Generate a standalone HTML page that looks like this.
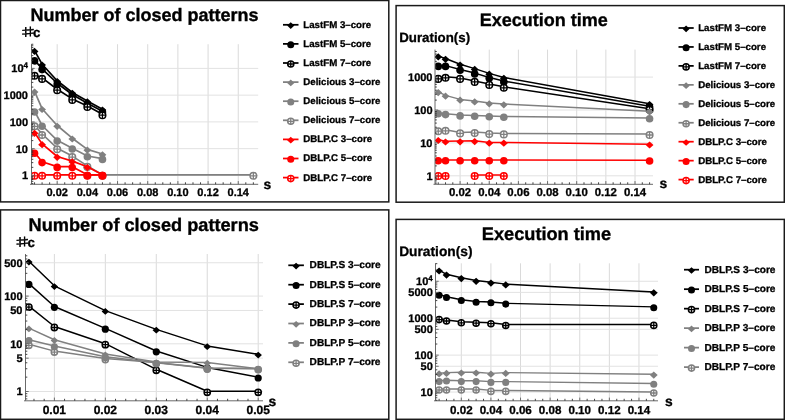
<!DOCTYPE html>
<html><head><meta charset="utf-8"><style>
html,body{margin:0;padding:0;background:#fff;width:785px;height:420px;overflow:hidden}
svg{display:block}
text{text-rendering:geometricPrecision}
</style></head><body>
<svg width="785" height="420" viewBox="0 0 785 420">
<rect width="785" height="420" fill="#fff"/>
<rect x="0.5" y="0.5" width="388.3" height="201.4" fill="none" stroke="#1a1a1a" stroke-width="1.5"/><rect x="396.1" y="5.6" width="388.2" height="196.6" fill="none" stroke="#1a1a1a" stroke-width="1.5"/><rect x="0.5" y="209.9" width="388.3" height="209.4" fill="none" stroke="#1a1a1a" stroke-width="1.5"/><rect x="396.1" y="219.4" width="388.2" height="199.9" fill="none" stroke="#1a1a1a" stroke-width="1.5"/>
<path d="M57.18 44.2V184.3M87.36 44.2V184.3M117.54 44.2V184.3M147.72 44.2V184.3M177.9 44.2V184.3M208.08 44.2V184.3M238.26 44.2V184.3" stroke="#dadada" stroke-width="1"/>
<path d="M31.5 175.4H258.2M31.5 148.65H258.2M31.5 121.9H258.2M31.5 95.15H258.2M31.5 68.4H258.2" stroke="#e2e2e2" stroke-width="1"/>
<text x="57.18" y="196" font-family="Liberation Sans, Arial, sans-serif" font-weight="bold" font-size="11" stroke="#000" stroke-width="0.3" text-anchor="middle">0.02</text>
<text x="87.36" y="196" font-family="Liberation Sans, Arial, sans-serif" font-weight="bold" font-size="11" stroke="#000" stroke-width="0.3" text-anchor="middle">0.04</text>
<text x="117.54" y="196" font-family="Liberation Sans, Arial, sans-serif" font-weight="bold" font-size="11" stroke="#000" stroke-width="0.3" text-anchor="middle">0.06</text>
<text x="147.72" y="196" font-family="Liberation Sans, Arial, sans-serif" font-weight="bold" font-size="11" stroke="#000" stroke-width="0.3" text-anchor="middle">0.08</text>
<text x="177.9" y="196" font-family="Liberation Sans, Arial, sans-serif" font-weight="bold" font-size="11" stroke="#000" stroke-width="0.3" text-anchor="middle">0.10</text>
<text x="208.08" y="196" font-family="Liberation Sans, Arial, sans-serif" font-weight="bold" font-size="11" stroke="#000" stroke-width="0.3" text-anchor="middle">0.12</text>
<text x="238.26" y="196" font-family="Liberation Sans, Arial, sans-serif" font-weight="bold" font-size="11" stroke="#000" stroke-width="0.3" text-anchor="middle">0.14</text>
<text x="28" y="179.3" font-family="Liberation Sans, Arial, sans-serif" font-weight="bold" font-size="11" stroke="#000" stroke-width="0.3" text-anchor="end">1</text>
<text x="28" y="152.55" font-family="Liberation Sans, Arial, sans-serif" font-weight="bold" font-size="11" stroke="#000" stroke-width="0.3" text-anchor="end">10</text>
<text x="28" y="125.8" font-family="Liberation Sans, Arial, sans-serif" font-weight="bold" font-size="11" stroke="#000" stroke-width="0.3" text-anchor="end">100</text>
<text x="28" y="99.05" font-family="Liberation Sans, Arial, sans-serif" font-weight="bold" font-size="11" stroke="#000" stroke-width="0.3" text-anchor="end">1000</text>
<text x="28" y="72.3" font-family="Liberation Sans, Arial, sans-serif" font-weight="bold" font-size="11" stroke="#000" stroke-width="0.3" text-anchor="end">10<tspan font-size="8" dy="-4.5">4</tspan></text>
<text x="263.5" y="188.5" font-family="Liberation Sans, Arial, sans-serif" font-weight="bold" font-size="13.8" stroke="#000" stroke-width="0.3">s</text>
<text x="30.5" y="20.7" font-family="Liberation Sans, Arial, sans-serif" font-weight="bold" font-size="18.0" stroke="#000" stroke-width="0.35">Number of closed patterns</text>
<text transform="translate(18.2 35.6) scale(1.8 1.05)" font-family="NanumGothic, sans-serif" font-weight="bold" font-size="11.5" stroke="#000" stroke-width="0.45">♯</text><text x="32.9" y="36.6" font-family="Liberation Sans, Arial, sans-serif" font-weight="bold" font-size="13.3" stroke="#000" stroke-width="0.3">c</text>
<clipPath id="c17"><rect x="31.5" y="36.2" width="234.7" height="148.1"/></clipPath><g clip-path="url(#c17)">
<path d="M34.55 50.6 L42.09 64.2 L57.18 80.7 L72.27 92.5 L87.36 101.1 L102.45 109.2" stroke="#000" stroke-width="1.7" fill="none" stroke-linejoin="round"/>
<polygon points="34.55,47.8 38.45,51.4 34.55,55 30.65,51.4" fill="#000"/>
<polygon points="42.09,61.4 45.99,65 42.09,68.6 38.19,65" fill="#000"/>
<polygon points="57.18,77.9 61.08,81.5 57.18,85.1 53.28,81.5" fill="#000"/>
<polygon points="72.27,89.7 76.17,93.3 72.27,96.9 68.37,93.3" fill="#000"/>
<polygon points="87.36,98.3 91.26,101.9 87.36,105.5 83.46,101.9" fill="#000"/>
<polygon points="102.45,106.4 106.35,110 102.45,113.6 98.55,110" fill="#000"/>
<path d="M34.55 60.1 L42.09 68.8 L57.18 83.2 L72.27 94.5 L87.36 103.2 L102.45 111.3" stroke="#000" stroke-width="1.7" fill="none" stroke-linejoin="round"/>
<circle cx="34.55" cy="60.9" r="3.8" fill="#000"/>
<circle cx="42.09" cy="69.6" r="3.8" fill="#000"/>
<circle cx="57.18" cy="84" r="3.8" fill="#000"/>
<circle cx="72.27" cy="95.3" r="3.8" fill="#000"/>
<circle cx="87.36" cy="104" r="3.8" fill="#000"/>
<circle cx="102.45" cy="112.1" r="3.8" fill="#000"/>
<path d="M34.55 74.8 L42.09 77.9 L57.18 89.2 L72.27 98.9 L87.36 106 L102.45 114.2" stroke="#000" stroke-width="1.7" fill="none" stroke-linejoin="round"/>
<circle cx="34.55" cy="75.8" r="3.3" fill="#fff" stroke="#000" stroke-width="1.5"/><path d="M31.25 75.8H37.84M34.55 72.5V79.1" stroke="#000" stroke-width="1.3" fill="none"/>
<circle cx="42.09" cy="78.9" r="3.3" fill="#fff" stroke="#000" stroke-width="1.5"/><path d="M38.79 78.9H45.39M42.09 75.6V82.2" stroke="#000" stroke-width="1.3" fill="none"/>
<circle cx="57.18" cy="90.2" r="3.3" fill="#fff" stroke="#000" stroke-width="1.5"/><path d="M53.88 90.2H60.48M57.18 86.9V93.5" stroke="#000" stroke-width="1.3" fill="none"/>
<circle cx="72.27" cy="99.9" r="3.3" fill="#fff" stroke="#000" stroke-width="1.5"/><path d="M68.97 99.9H75.57M72.27 96.6V103.2" stroke="#000" stroke-width="1.3" fill="none"/>
<circle cx="87.36" cy="107" r="3.3" fill="#fff" stroke="#000" stroke-width="1.5"/><path d="M84.06 107H90.66M87.36 103.7V110.3" stroke="#000" stroke-width="1.3" fill="none"/>
<circle cx="102.45" cy="115.2" r="3.3" fill="#fff" stroke="#000" stroke-width="1.5"/><path d="M99.15 115.2H105.75M102.45 111.9V118.5" stroke="#000" stroke-width="1.3" fill="none"/>
<path d="M34.55 91.3 L42.09 108.7 L57.18 125.5 L72.27 138.2 L87.36 149.4 L102.45 154" stroke="#808080" stroke-width="1.7" fill="none" stroke-linejoin="round"/>
<polygon points="34.55,88.5 38.45,92.1 34.55,95.7 30.65,92.1" fill="#808080"/>
<polygon points="42.09,105.9 45.99,109.5 42.09,113.1 38.19,109.5" fill="#808080"/>
<polygon points="57.18,122.7 61.08,126.3 57.18,129.9 53.28,126.3" fill="#808080"/>
<polygon points="72.27,135.4 76.17,139 72.27,142.6 68.37,139" fill="#808080"/>
<polygon points="87.36,146.6 91.26,150.2 87.36,153.8 83.46,150.2" fill="#808080"/>
<polygon points="102.45,151.2 106.35,154.8 102.45,158.4 98.55,154.8" fill="#808080"/>
<path d="M34.55 111.2 L42.09 125.5 L57.18 140.3 L72.27 148.2 L87.36 156 L102.45 158.6" stroke="#808080" stroke-width="1.7" fill="none" stroke-linejoin="round"/>
<circle cx="34.55" cy="112" r="3.8" fill="#808080"/>
<circle cx="42.09" cy="126.3" r="3.8" fill="#808080"/>
<circle cx="57.18" cy="141.1" r="3.8" fill="#808080"/>
<circle cx="72.27" cy="149" r="3.8" fill="#808080"/>
<circle cx="87.36" cy="156.8" r="3.8" fill="#808080"/>
<circle cx="102.45" cy="159.4" r="3.8" fill="#808080"/>
<path d="M34.55 125.3 L42.09 134 L57.18 148.2 L72.27 156.1 L87.36 165.9 L102.45 174.8 L253.35 174.8" stroke="#808080" stroke-width="1.7" fill="none" stroke-linejoin="round"/>
<circle cx="34.55" cy="126.3" r="3.3" fill="#fff" stroke="#808080" stroke-width="1.5"/><path d="M31.25 126.3H37.84M34.55 123V129.6" stroke="#808080" stroke-width="1.3" fill="none"/>
<circle cx="42.09" cy="135" r="3.3" fill="#fff" stroke="#808080" stroke-width="1.5"/><path d="M38.79 135H45.39M42.09 131.7V138.3" stroke="#808080" stroke-width="1.3" fill="none"/>
<circle cx="57.18" cy="149.2" r="3.3" fill="#fff" stroke="#808080" stroke-width="1.5"/><path d="M53.88 149.2H60.48M57.18 145.9V152.5" stroke="#808080" stroke-width="1.3" fill="none"/>
<circle cx="72.27" cy="157.1" r="3.3" fill="#fff" stroke="#808080" stroke-width="1.5"/><path d="M68.97 157.1H75.57M72.27 153.8V160.4" stroke="#808080" stroke-width="1.3" fill="none"/>
<circle cx="87.36" cy="166.9" r="3.3" fill="#fff" stroke="#808080" stroke-width="1.5"/><path d="M84.06 166.9H90.66M87.36 163.6V170.2" stroke="#808080" stroke-width="1.3" fill="none"/>
<circle cx="102.45" cy="175.8" r="3.3" fill="#fff" stroke="#808080" stroke-width="1.5"/><path d="M99.15 175.8H105.75M102.45 172.5V179.1" stroke="#808080" stroke-width="1.3" fill="none"/>
<circle cx="253.35" cy="175.8" r="3.3" fill="#fff" stroke="#808080" stroke-width="1.5"/><path d="M250.05 175.8H256.65M253.35 172.5V179.1" stroke="#808080" stroke-width="1.3" fill="none"/>
<path d="M34.55 174.8 L42.09 174.8 L57.18 174.8 L72.27 174.8 L87.36 174.8 L102.45 174.8" stroke="#ff0000" stroke-width="1.7" fill="none" stroke-linejoin="round"/>
<circle cx="34.55" cy="175.8" r="3.3" fill="#fff" stroke="#ff0000" stroke-width="1.5"/><path d="M31.25 175.8H37.84M34.55 172.5V179.1" stroke="#ff0000" stroke-width="1.3" fill="none"/>
<circle cx="42.09" cy="175.8" r="3.3" fill="#fff" stroke="#ff0000" stroke-width="1.5"/><path d="M38.79 175.8H45.39M42.09 172.5V179.1" stroke="#ff0000" stroke-width="1.3" fill="none"/>
<circle cx="57.18" cy="175.8" r="3.3" fill="#fff" stroke="#ff0000" stroke-width="1.5"/><path d="M53.88 175.8H60.48M57.18 172.5V179.1" stroke="#ff0000" stroke-width="1.3" fill="none"/>
<circle cx="72.27" cy="175.8" r="3.3" fill="#fff" stroke="#ff0000" stroke-width="1.5"/><path d="M68.97 175.8H75.57M72.27 172.5V179.1" stroke="#ff0000" stroke-width="1.3" fill="none"/>
<circle cx="87.36" cy="175.8" r="3.3" fill="#fff" stroke="#ff0000" stroke-width="1.5"/><path d="M84.06 175.8H90.66M87.36 172.5V179.1" stroke="#ff0000" stroke-width="1.3" fill="none"/>
<circle cx="102.45" cy="175.8" r="3.3" fill="#fff" stroke="#ff0000" stroke-width="1.5"/><path d="M99.15 175.8H105.75M102.45 172.5V179.1" stroke="#ff0000" stroke-width="1.3" fill="none"/>
<path d="M34.55 132.5 L42.09 143.9 L57.18 156.5 L72.27 161.1 L87.36 166.8 L102.45 174.8" stroke="#ff0000" stroke-width="1.7" fill="none" stroke-linejoin="round"/>
<polygon points="34.55,129.7 38.45,133.3 34.55,136.9 30.65,133.3" fill="#ff0000"/>
<polygon points="42.09,141.1 45.99,144.7 42.09,148.3 38.19,144.7" fill="#ff0000"/>
<polygon points="57.18,153.7 61.08,157.3 57.18,160.9 53.28,157.3" fill="#ff0000"/>
<polygon points="72.27,158.3 76.17,161.9 72.27,165.5 68.37,161.9" fill="#ff0000"/>
<polygon points="87.36,164 91.26,167.6 87.36,171.2 83.46,167.6" fill="#ff0000"/>
<polygon points="102.45,172 106.35,175.6 102.45,179.2 98.55,175.6" fill="#ff0000"/>
<path d="M34.55 152.5 L42.09 161.8 L57.18 166.6 L72.27 166.7 L87.36 174.8 L102.45 174.8" stroke="#ff0000" stroke-width="1.7" fill="none" stroke-linejoin="round"/>
<circle cx="34.55" cy="153.3" r="3.8" fill="#ff0000"/>
<circle cx="42.09" cy="162.6" r="3.8" fill="#ff0000"/>
<circle cx="57.18" cy="167.4" r="3.8" fill="#ff0000"/>
<circle cx="72.27" cy="167.5" r="3.8" fill="#ff0000"/>
<circle cx="87.36" cy="175.6" r="3.8" fill="#ff0000"/>
<circle cx="102.45" cy="175.6" r="3.8" fill="#ff0000"/>
</g>
<path d="M31.5 44.2V184.3M30 184.3H258.2" stroke="#6a6a6a" stroke-width="1" fill="none"/>
<path d="M57.18 184.3v-3.2M87.36 184.3v-3.2M117.54 184.3v-3.2M147.72 184.3v-3.2M177.9 184.3v-3.2M208.08 184.3v-3.2M238.26 184.3v-3.2M31.5 175.4h3.2M31.5 148.65h3.2M31.5 121.9h3.2M31.5 95.15h3.2M31.5 68.4h3.2" stroke="#606060" stroke-width="0.9" fill="none"/>
<path d="M34.55 184.3v-2M42.09 184.3v-2M49.63 184.3v-2M64.72 184.3v-2M72.27 184.3v-2M79.81 184.3v-2M94.91 184.3v-2M102.45 184.3v-2M110 184.3v-2M125.09 184.3v-2M132.63 184.3v-2M140.18 184.3v-2M155.27 184.3v-2M162.81 184.3v-2M170.35 184.3v-2M185.44 184.3v-2M192.99 184.3v-2M200.53 184.3v-2M215.62 184.3v-2M223.17 184.3v-2M230.72 184.3v-2M245.8 184.3v-2M253.35 184.3v-2M31.5 183.45h1.8M31.5 181.33h1.8M31.5 179.54h1.8M31.5 177.99h1.8M31.5 176.62h1.8M31.5 167.35h1.8M31.5 162.64h1.8M31.5 159.29h1.8M31.5 156.7h1.8M31.5 154.58h1.8M31.5 152.79h1.8M31.5 151.24h1.8M31.5 149.87h1.8M31.5 140.6h1.8M31.5 135.89h1.8M31.5 132.54h1.8M31.5 129.95h1.8M31.5 127.83h1.8M31.5 126.04h1.8M31.5 124.49h1.8M31.5 123.12h1.8M31.5 113.85h1.8M31.5 109.14h1.8M31.5 105.79h1.8M31.5 103.2h1.8M31.5 101.08h1.8M31.5 99.29h1.8M31.5 97.74h1.8M31.5 96.37h1.8M31.5 87.1h1.8M31.5 82.39h1.8M31.5 79.04h1.8M31.5 76.45h1.8M31.5 74.33h1.8M31.5 72.54h1.8M31.5 70.99h1.8M31.5 69.62h1.8M31.5 60.35h1.8M31.5 55.64h1.8M31.5 52.29h1.8M31.5 49.7h1.8M31.5 47.58h1.8M31.5 45.79h1.8M31.5 44.24h1.8" stroke="#303030" stroke-width="0.9" fill="none"/>
<path d="M283 24.8H298.5" stroke="#000" stroke-width="1.75"/>
<polygon points="290.75,22.25 294.38,25.6 290.75,28.95 287.12,25.6" fill="#000"/>
<text x="303.3" y="27.75" font-family="Liberation Sans, Arial, sans-serif" font-weight="bold" font-size="9.7" stroke="#000" stroke-width="0.3">LastFM 3–core</text>
<path d="M283 43.9H298.5" stroke="#000" stroke-width="1.75"/>
<circle cx="290.75" cy="44.7" r="3.53" fill="#000"/>
<text x="303.3" y="46.85" font-family="Liberation Sans, Arial, sans-serif" font-weight="bold" font-size="9.7" stroke="#000" stroke-width="0.3">LastFM 5–core</text>
<path d="M283 63H298.5" stroke="#000" stroke-width="1.75"/>
<circle cx="290.75" cy="64" r="3.07" fill="#fff" stroke="#000" stroke-width="1.5"/><path d="M287.68 64H293.82M290.75 60.93V67.07" stroke="#000" stroke-width="1.3" fill="none"/>
<text x="303.3" y="65.95" font-family="Liberation Sans, Arial, sans-serif" font-weight="bold" font-size="9.7" stroke="#000" stroke-width="0.3">LastFM 7–core</text>
<path d="M283 82.1H298.5" stroke="#808080" stroke-width="1.75"/>
<polygon points="290.75,79.55 294.38,82.9 290.75,86.25 287.12,82.9" fill="#808080"/>
<text x="303.3" y="85.05" font-family="Liberation Sans, Arial, sans-serif" font-weight="bold" font-size="9.7" stroke="#000" stroke-width="0.3">Delicious 3–core</text>
<path d="M283 101.2H298.5" stroke="#808080" stroke-width="1.75"/>
<circle cx="290.75" cy="102" r="3.53" fill="#808080"/>
<text x="303.3" y="104.15" font-family="Liberation Sans, Arial, sans-serif" font-weight="bold" font-size="9.7" stroke="#000" stroke-width="0.3">Delicious 5–core</text>
<path d="M283 120.3H298.5" stroke="#808080" stroke-width="1.75"/>
<circle cx="290.75" cy="121.3" r="3.07" fill="#fff" stroke="#808080" stroke-width="1.5"/><path d="M287.68 121.3H293.82M290.75 118.23V124.37" stroke="#808080" stroke-width="1.3" fill="none"/>
<text x="303.3" y="123.25" font-family="Liberation Sans, Arial, sans-serif" font-weight="bold" font-size="9.7" stroke="#000" stroke-width="0.3">Delicious 7–core</text>
<path d="M283 139.4H298.5" stroke="#ff0000" stroke-width="1.75"/>
<polygon points="290.75,136.85 294.38,140.2 290.75,143.55 287.12,140.2" fill="#ff0000"/>
<text x="303.3" y="142.35" font-family="Liberation Sans, Arial, sans-serif" font-weight="bold" font-size="9.7" stroke="#000" stroke-width="0.3">DBLP.C 3–core</text>
<path d="M283 158.5H298.5" stroke="#ff0000" stroke-width="1.75"/>
<circle cx="290.75" cy="159.3" r="3.53" fill="#ff0000"/>
<text x="303.3" y="161.45" font-family="Liberation Sans, Arial, sans-serif" font-weight="bold" font-size="9.7" stroke="#000" stroke-width="0.3">DBLP.C 5–core</text>
<path d="M283 177.6H298.5" stroke="#ff0000" stroke-width="1.75"/>
<circle cx="290.75" cy="178.6" r="3.07" fill="#fff" stroke="#ff0000" stroke-width="1.5"/><path d="M287.68 178.6H293.82M290.75 175.53V181.67" stroke="#ff0000" stroke-width="1.3" fill="none"/>
<text x="303.3" y="180.55" font-family="Liberation Sans, Arial, sans-serif" font-weight="bold" font-size="9.7" stroke="#000" stroke-width="0.3">DBLP.C 7–core</text>
<path d="M460.1 49.6V184.3M489.25 49.6V184.3M518.4 49.6V184.3M547.55 49.6V184.3M576.7 49.6V184.3M605.85 49.6V184.3M635 49.6V184.3" stroke="#dadada" stroke-width="1"/>
<path d="M435 175.8H653M435 142.9H653M435 110H653M435 77.1H653" stroke="#e2e2e2" stroke-width="1"/>
<text x="460.1" y="196.3" font-family="Liberation Sans, Arial, sans-serif" font-weight="bold" font-size="11.4" stroke="#000" stroke-width="0.3" text-anchor="middle">0.02</text>
<text x="489.25" y="196.3" font-family="Liberation Sans, Arial, sans-serif" font-weight="bold" font-size="11.4" stroke="#000" stroke-width="0.3" text-anchor="middle">0.04</text>
<text x="518.4" y="196.3" font-family="Liberation Sans, Arial, sans-serif" font-weight="bold" font-size="11.4" stroke="#000" stroke-width="0.3" text-anchor="middle">0.06</text>
<text x="547.55" y="196.3" font-family="Liberation Sans, Arial, sans-serif" font-weight="bold" font-size="11.4" stroke="#000" stroke-width="0.3" text-anchor="middle">0.08</text>
<text x="576.7" y="196.3" font-family="Liberation Sans, Arial, sans-serif" font-weight="bold" font-size="11.4" stroke="#000" stroke-width="0.3" text-anchor="middle">0.10</text>
<text x="605.85" y="196.3" font-family="Liberation Sans, Arial, sans-serif" font-weight="bold" font-size="11.4" stroke="#000" stroke-width="0.3" text-anchor="middle">0.12</text>
<text x="635" y="196.3" font-family="Liberation Sans, Arial, sans-serif" font-weight="bold" font-size="11.4" stroke="#000" stroke-width="0.3" text-anchor="middle">0.14</text>
<text x="432.5" y="179.7" font-family="Liberation Sans, Arial, sans-serif" font-weight="bold" font-size="11" stroke="#000" stroke-width="0.3" text-anchor="end">1</text>
<text x="432.5" y="146.8" font-family="Liberation Sans, Arial, sans-serif" font-weight="bold" font-size="11" stroke="#000" stroke-width="0.3" text-anchor="end">10</text>
<text x="432.5" y="113.9" font-family="Liberation Sans, Arial, sans-serif" font-weight="bold" font-size="11" stroke="#000" stroke-width="0.3" text-anchor="end">100</text>
<text x="432.5" y="81" font-family="Liberation Sans, Arial, sans-serif" font-weight="bold" font-size="11" stroke="#000" stroke-width="0.3" text-anchor="end">1000</text>
<text x="659.5" y="188.3" font-family="Liberation Sans, Arial, sans-serif" font-weight="bold" font-size="13.8" stroke="#000" stroke-width="0.3">s</text>
<text x="479.7" y="25.7" font-family="Liberation Sans, Arial, sans-serif" font-weight="bold" font-size="18.0" stroke="#000" stroke-width="0.35">Execution time</text>
<text x="399.2" y="41.9" font-family="Liberation Sans, Arial, sans-serif" font-weight="bold" font-size="13.3" stroke="#000" stroke-width="0.3">Duration(s)</text>
<clipPath id="c129"><rect x="435" y="41.6" width="226" height="142.7"/></clipPath><g clip-path="url(#c129)">
<path d="M438.24 56.1 L445.52 58.5 L460.1 64.2 L474.68 68.6 L489.25 73.4 L503.82 77.5 L649.58 103.7" stroke="#000" stroke-width="1.5" fill="none" stroke-linejoin="round"/>
<polygon points="438.24,53.3 442.14,56.9 438.24,60.5 434.34,56.9" fill="#000"/>
<polygon points="445.52,55.7 449.42,59.3 445.52,62.9 441.62,59.3" fill="#000"/>
<polygon points="460.1,61.4 464,65 460.1,68.6 456.2,65" fill="#000"/>
<polygon points="474.68,65.8 478.57,69.4 474.68,73 470.78,69.4" fill="#000"/>
<polygon points="489.25,70.6 493.15,74.2 489.25,77.8 485.35,74.2" fill="#000"/>
<polygon points="503.82,74.7 507.72,78.3 503.82,81.9 499.93,78.3" fill="#000"/>
<polygon points="649.58,100.9 653.48,104.5 649.58,108.1 645.68,104.5" fill="#000"/>
<path d="M438.24 65.6 L445.52 65.6 L460.1 69.5 L474.68 73.1 L489.25 77.5 L503.82 81.1 L649.58 106.2" stroke="#000" stroke-width="1.5" fill="none" stroke-linejoin="round"/>
<circle cx="438.24" cy="66.4" r="3.8" fill="#000"/>
<circle cx="445.52" cy="66.4" r="3.8" fill="#000"/>
<circle cx="460.1" cy="70.3" r="3.8" fill="#000"/>
<circle cx="474.68" cy="73.9" r="3.8" fill="#000"/>
<circle cx="489.25" cy="78.3" r="3.8" fill="#000"/>
<circle cx="503.82" cy="81.9" r="3.8" fill="#000"/>
<circle cx="649.58" cy="107" r="3.8" fill="#000"/>
<path d="M438.24 77.9 L445.52 76.8 L460.1 77.9 L474.68 80.9 L489.25 83.9 L503.82 86.8 L649.58 108.8" stroke="#000" stroke-width="1.5" fill="none" stroke-linejoin="round"/>
<circle cx="438.24" cy="78.9" r="3.3" fill="#fff" stroke="#000" stroke-width="1.5"/><path d="M434.94 78.9H441.54M438.24 75.6V82.2" stroke="#000" stroke-width="1.3" fill="none"/>
<circle cx="445.52" cy="77.8" r="3.3" fill="#fff" stroke="#000" stroke-width="1.5"/><path d="M442.22 77.8H448.82M445.52 74.5V81.1" stroke="#000" stroke-width="1.3" fill="none"/>
<circle cx="460.1" cy="78.9" r="3.3" fill="#fff" stroke="#000" stroke-width="1.5"/><path d="M456.8 78.9H463.4M460.1 75.6V82.2" stroke="#000" stroke-width="1.3" fill="none"/>
<circle cx="474.68" cy="81.9" r="3.3" fill="#fff" stroke="#000" stroke-width="1.5"/><path d="M471.38 81.9H477.98M474.68 78.6V85.2" stroke="#000" stroke-width="1.3" fill="none"/>
<circle cx="489.25" cy="84.9" r="3.3" fill="#fff" stroke="#000" stroke-width="1.5"/><path d="M485.95 84.9H492.55M489.25 81.6V88.2" stroke="#000" stroke-width="1.3" fill="none"/>
<circle cx="503.82" cy="87.8" r="3.3" fill="#fff" stroke="#000" stroke-width="1.5"/><path d="M500.52 87.8H507.12M503.82 84.5V91.1" stroke="#000" stroke-width="1.3" fill="none"/>
<circle cx="649.58" cy="109.8" r="3.3" fill="#fff" stroke="#000" stroke-width="1.5"/><path d="M646.28 109.8H652.88M649.58 106.5V113.1" stroke="#000" stroke-width="1.3" fill="none"/>
<path d="M438.24 91.8 L445.52 95.4 L460.1 99.4 L474.68 101.1 L489.25 103 L503.82 104 L649.58 111.2" stroke="#808080" stroke-width="1.5" fill="none" stroke-linejoin="round"/>
<polygon points="438.24,89 442.14,92.6 438.24,96.2 434.34,92.6" fill="#808080"/>
<polygon points="445.52,92.6 449.42,96.2 445.52,99.8 441.62,96.2" fill="#808080"/>
<polygon points="460.1,96.6 464,100.2 460.1,103.8 456.2,100.2" fill="#808080"/>
<polygon points="474.68,98.3 478.57,101.9 474.68,105.5 470.78,101.9" fill="#808080"/>
<polygon points="489.25,100.2 493.15,103.8 489.25,107.4 485.35,103.8" fill="#808080"/>
<polygon points="503.82,101.2 507.72,104.8 503.82,108.4 499.93,104.8" fill="#808080"/>
<polygon points="649.58,108.4 653.48,112 649.58,115.6 645.68,112" fill="#808080"/>
<path d="M438.24 113 L445.52 113.8 L460.1 115.1 L474.68 115.5 L489.25 116 L503.82 116.4 L649.58 118" stroke="#808080" stroke-width="1.5" fill="none" stroke-linejoin="round"/>
<circle cx="438.24" cy="113.8" r="3.8" fill="#808080"/>
<circle cx="445.52" cy="114.6" r="3.8" fill="#808080"/>
<circle cx="460.1" cy="115.9" r="3.8" fill="#808080"/>
<circle cx="474.68" cy="116.3" r="3.8" fill="#808080"/>
<circle cx="489.25" cy="116.8" r="3.8" fill="#808080"/>
<circle cx="503.82" cy="117.2" r="3.8" fill="#808080"/>
<circle cx="649.58" cy="118.8" r="3.8" fill="#808080"/>
<path d="M438.24 130.2 L445.52 129.8 L460.1 132.4 L474.68 132.1 L489.25 133.1 L503.82 133.4 L649.58 134" stroke="#808080" stroke-width="1.5" fill="none" stroke-linejoin="round"/>
<circle cx="438.24" cy="131.2" r="3.3" fill="#fff" stroke="#808080" stroke-width="1.5"/><path d="M434.94 131.2H441.54M438.24 127.9V134.5" stroke="#808080" stroke-width="1.3" fill="none"/>
<circle cx="445.52" cy="130.8" r="3.3" fill="#fff" stroke="#808080" stroke-width="1.5"/><path d="M442.22 130.8H448.82M445.52 127.5V134.1" stroke="#808080" stroke-width="1.3" fill="none"/>
<circle cx="460.1" cy="133.4" r="3.3" fill="#fff" stroke="#808080" stroke-width="1.5"/><path d="M456.8 133.4H463.4M460.1 130.1V136.7" stroke="#808080" stroke-width="1.3" fill="none"/>
<circle cx="474.68" cy="133.1" r="3.3" fill="#fff" stroke="#808080" stroke-width="1.5"/><path d="M471.38 133.1H477.98M474.68 129.8V136.4" stroke="#808080" stroke-width="1.3" fill="none"/>
<circle cx="489.25" cy="134.1" r="3.3" fill="#fff" stroke="#808080" stroke-width="1.5"/><path d="M485.95 134.1H492.55M489.25 130.8V137.4" stroke="#808080" stroke-width="1.3" fill="none"/>
<circle cx="503.82" cy="134.4" r="3.3" fill="#fff" stroke="#808080" stroke-width="1.5"/><path d="M500.52 134.4H507.12M503.82 131.1V137.7" stroke="#808080" stroke-width="1.3" fill="none"/>
<circle cx="649.58" cy="135" r="3.3" fill="#fff" stroke="#808080" stroke-width="1.5"/><path d="M646.28 135H652.88M649.58 131.7V138.3" stroke="#808080" stroke-width="1.3" fill="none"/>
<path d="M438.24 139.7 L445.52 141.2 L460.1 141 L474.68 140.8 L489.25 142.4 L503.82 142.4 L649.58 144.2" stroke="#ff0000" stroke-width="1.5" fill="none" stroke-linejoin="round"/>
<polygon points="438.24,136.9 442.14,140.5 438.24,144.1 434.34,140.5" fill="#ff0000"/>
<polygon points="445.52,138.4 449.42,142 445.52,145.6 441.62,142" fill="#ff0000"/>
<polygon points="460.1,138.2 464,141.8 460.1,145.4 456.2,141.8" fill="#ff0000"/>
<polygon points="474.68,138 478.57,141.6 474.68,145.2 470.78,141.6" fill="#ff0000"/>
<polygon points="489.25,139.6 493.15,143.2 489.25,146.8 485.35,143.2" fill="#ff0000"/>
<polygon points="503.82,139.6 507.72,143.2 503.82,146.8 499.93,143.2" fill="#ff0000"/>
<polygon points="649.58,141.4 653.48,145 649.58,148.6 645.68,145" fill="#ff0000"/>
<path d="M438.24 160 L445.52 160 L460.1 160 L474.68 160 L489.25 160 L503.82 160 L649.58 160.2" stroke="#ff0000" stroke-width="1.5" fill="none" stroke-linejoin="round"/>
<circle cx="438.24" cy="160.8" r="3.8" fill="#ff0000"/>
<circle cx="445.52" cy="160.8" r="3.8" fill="#ff0000"/>
<circle cx="460.1" cy="160.8" r="3.8" fill="#ff0000"/>
<circle cx="474.68" cy="160.8" r="3.8" fill="#ff0000"/>
<circle cx="489.25" cy="160.8" r="3.8" fill="#ff0000"/>
<circle cx="503.82" cy="160.8" r="3.8" fill="#ff0000"/>
<circle cx="649.58" cy="161" r="3.8" fill="#ff0000"/>
<path d="M438.24 175 L445.52 175" stroke="#ff0000" stroke-width="1.5" fill="none" stroke-linejoin="round"/>
<path d="M474.68 175 L489.25 175 L503.82 175" stroke="#ff0000" stroke-width="1.5" fill="none" stroke-linejoin="round"/>
<circle cx="438.24" cy="176" r="3.3" fill="#fff" stroke="#ff0000" stroke-width="1.5"/><path d="M434.94 176H441.54M438.24 172.7V179.3" stroke="#ff0000" stroke-width="1.3" fill="none"/>
<circle cx="445.52" cy="176" r="3.3" fill="#fff" stroke="#ff0000" stroke-width="1.5"/><path d="M442.22 176H448.82M445.52 172.7V179.3" stroke="#ff0000" stroke-width="1.3" fill="none"/>
<circle cx="474.68" cy="176" r="3.3" fill="#fff" stroke="#ff0000" stroke-width="1.5"/><path d="M471.38 176H477.98M474.68 172.7V179.3" stroke="#ff0000" stroke-width="1.3" fill="none"/>
<circle cx="489.25" cy="176" r="3.3" fill="#fff" stroke="#ff0000" stroke-width="1.5"/><path d="M485.95 176H492.55M489.25 172.7V179.3" stroke="#ff0000" stroke-width="1.3" fill="none"/>
<circle cx="503.82" cy="176" r="3.3" fill="#fff" stroke="#ff0000" stroke-width="1.5"/><path d="M500.52 176H507.12M503.82 172.7V179.3" stroke="#ff0000" stroke-width="1.3" fill="none"/>
</g>
<path d="M435 49.6V184.3M433.5 184.3H653" stroke="#6a6a6a" stroke-width="1" fill="none"/>
<path d="M460.1 184.3v-3.2M489.25 184.3v-3.2M518.4 184.3v-3.2M547.55 184.3v-3.2M576.7 184.3v-3.2M605.85 184.3v-3.2M635 184.3v-3.2M435 175.8h3.2M435 142.9h3.2M435 110h3.2M435 77.1h3.2" stroke="#606060" stroke-width="0.9" fill="none"/>
<path d="M438.24 184.3v-2M445.52 184.3v-2M452.81 184.3v-2M467.39 184.3v-2M474.68 184.3v-2M481.96 184.3v-2M496.54 184.3v-2M503.82 184.3v-2M511.11 184.3v-2M525.69 184.3v-2M532.98 184.3v-2M540.26 184.3v-2M554.84 184.3v-2M562.12 184.3v-2M569.41 184.3v-2M583.99 184.3v-2M591.27 184.3v-2M598.56 184.3v-2M613.14 184.3v-2M620.42 184.3v-2M627.71 184.3v-2M642.29 184.3v-2M649.58 184.3v-2M435 183.1h1.8M435 180.9h1.8M435 178.99h1.8M435 177.31h1.8M435 165.9h1.8M435 160.1h1.8M435 155.99h1.8M435 152.8h1.8M435 150.2h1.8M435 148h1.8M435 146.09h1.8M435 144.41h1.8M435 133h1.8M435 127.2h1.8M435 123.09h1.8M435 119.9h1.8M435 117.3h1.8M435 115.1h1.8M435 113.19h1.8M435 111.51h1.8M435 100.1h1.8M435 94.3h1.8M435 90.19h1.8M435 87h1.8M435 84.4h1.8M435 82.2h1.8M435 80.29h1.8M435 78.61h1.8M435 67.2h1.8M435 61.4h1.8M435 57.29h1.8M435 54.1h1.8M435 51.5h1.8" stroke="#303030" stroke-width="0.9" fill="none"/>
<path d="M678.5 28H693.7" stroke="#000" stroke-width="1.75"/>
<polygon points="686.1,25.45 689.73,28.8 686.1,32.15 682.47,28.8" fill="#000"/>
<text x="698.2" y="30.95" font-family="Liberation Sans, Arial, sans-serif" font-weight="bold" font-size="9.7" stroke="#000" stroke-width="0.3">LastFM 3–core</text>
<path d="M678.5 46.95H693.7" stroke="#000" stroke-width="1.75"/>
<circle cx="686.1" cy="47.75" r="3.53" fill="#000"/>
<text x="698.2" y="49.9" font-family="Liberation Sans, Arial, sans-serif" font-weight="bold" font-size="9.7" stroke="#000" stroke-width="0.3">LastFM 5–core</text>
<path d="M678.5 65.9H693.7" stroke="#000" stroke-width="1.75"/>
<circle cx="686.1" cy="66.9" r="3.07" fill="#fff" stroke="#000" stroke-width="1.5"/><path d="M683.03 66.9H689.17M686.1 63.83V69.97" stroke="#000" stroke-width="1.3" fill="none"/>
<text x="698.2" y="68.85" font-family="Liberation Sans, Arial, sans-serif" font-weight="bold" font-size="9.7" stroke="#000" stroke-width="0.3">LastFM 7–core</text>
<path d="M678.5 84.85H693.7" stroke="#808080" stroke-width="1.75"/>
<polygon points="686.1,82.3 689.73,85.65 686.1,89 682.47,85.65" fill="#808080"/>
<text x="698.2" y="87.8" font-family="Liberation Sans, Arial, sans-serif" font-weight="bold" font-size="9.7" stroke="#000" stroke-width="0.3">Delicious 3–core</text>
<path d="M678.5 103.8H693.7" stroke="#808080" stroke-width="1.75"/>
<circle cx="686.1" cy="104.6" r="3.53" fill="#808080"/>
<text x="698.2" y="106.75" font-family="Liberation Sans, Arial, sans-serif" font-weight="bold" font-size="9.7" stroke="#000" stroke-width="0.3">Delicious 5–core</text>
<path d="M678.5 122.75H693.7" stroke="#808080" stroke-width="1.75"/>
<circle cx="686.1" cy="123.75" r="3.07" fill="#fff" stroke="#808080" stroke-width="1.5"/><path d="M683.03 123.75H689.17M686.1 120.68V126.82" stroke="#808080" stroke-width="1.3" fill="none"/>
<text x="698.2" y="125.7" font-family="Liberation Sans, Arial, sans-serif" font-weight="bold" font-size="9.7" stroke="#000" stroke-width="0.3">Delicious 7–core</text>
<path d="M678.5 141.7H693.7" stroke="#ff0000" stroke-width="1.75"/>
<polygon points="686.1,139.15 689.73,142.5 686.1,145.85 682.47,142.5" fill="#ff0000"/>
<text x="698.2" y="144.65" font-family="Liberation Sans, Arial, sans-serif" font-weight="bold" font-size="9.7" stroke="#000" stroke-width="0.3">DBLP.C 3–core</text>
<path d="M678.5 160.65H693.7" stroke="#ff0000" stroke-width="1.75"/>
<circle cx="686.1" cy="161.45" r="3.53" fill="#ff0000"/>
<text x="698.2" y="163.6" font-family="Liberation Sans, Arial, sans-serif" font-weight="bold" font-size="9.7" stroke="#000" stroke-width="0.3">DBLP.C 5–core</text>
<path d="M678.5 179.6H693.7" stroke="#ff0000" stroke-width="1.75"/>
<circle cx="686.1" cy="180.6" r="3.07" fill="#fff" stroke="#ff0000" stroke-width="1.5"/><path d="M683.03 180.6H689.17M686.1 177.53V183.67" stroke="#ff0000" stroke-width="1.3" fill="none"/>
<text x="698.2" y="182.55" font-family="Liberation Sans, Arial, sans-serif" font-weight="bold" font-size="9.7" stroke="#000" stroke-width="0.3">DBLP.C 7–core</text>
<path d="M54.38 254V400.8M105.33 254V400.8M156.29 254V400.8M207.24 254V400.8M258.2 254V400.8" stroke="#dadada" stroke-width="1"/>
<path d="M25.5 391.5H263M25.5 358.16H263M25.5 343.8H263M25.5 310.46H263M25.5 296.1H263M25.5 262.76H263" stroke="#e2e2e2" stroke-width="1"/>
<text x="54.38" y="413.7" font-family="Liberation Sans, Arial, sans-serif" font-weight="bold" font-size="12" stroke="#000" stroke-width="0.3" text-anchor="middle">0.01</text>
<text x="105.33" y="413.7" font-family="Liberation Sans, Arial, sans-serif" font-weight="bold" font-size="12" stroke="#000" stroke-width="0.3" text-anchor="middle">0.02</text>
<text x="156.29" y="413.7" font-family="Liberation Sans, Arial, sans-serif" font-weight="bold" font-size="12" stroke="#000" stroke-width="0.3" text-anchor="middle">0.03</text>
<text x="207.24" y="413.7" font-family="Liberation Sans, Arial, sans-serif" font-weight="bold" font-size="12" stroke="#000" stroke-width="0.3" text-anchor="middle">0.04</text>
<text x="258.2" y="413.7" font-family="Liberation Sans, Arial, sans-serif" font-weight="bold" font-size="12" stroke="#000" stroke-width="0.3" text-anchor="middle">0.05</text>
<text x="22.5" y="395.4" font-family="Liberation Sans, Arial, sans-serif" font-weight="bold" font-size="11" stroke="#000" stroke-width="0.3" text-anchor="end">1</text>
<text x="22.5" y="362.06" font-family="Liberation Sans, Arial, sans-serif" font-weight="bold" font-size="11" stroke="#000" stroke-width="0.3" text-anchor="end">5</text>
<text x="22.5" y="347.7" font-family="Liberation Sans, Arial, sans-serif" font-weight="bold" font-size="11" stroke="#000" stroke-width="0.3" text-anchor="end">10</text>
<text x="22.5" y="314.36" font-family="Liberation Sans, Arial, sans-serif" font-weight="bold" font-size="11" stroke="#000" stroke-width="0.3" text-anchor="end">50</text>
<text x="22.5" y="300" font-family="Liberation Sans, Arial, sans-serif" font-weight="bold" font-size="11" stroke="#000" stroke-width="0.3" text-anchor="end">100</text>
<text x="22.5" y="266.66" font-family="Liberation Sans, Arial, sans-serif" font-weight="bold" font-size="11" stroke="#000" stroke-width="0.3" text-anchor="end">500</text>
<text x="268.5" y="405.6" font-family="Liberation Sans, Arial, sans-serif" font-weight="bold" font-size="13.8" stroke="#000" stroke-width="0.3">s</text>
<text x="28.5" y="230.9" font-family="Liberation Sans, Arial, sans-serif" font-weight="bold" font-size="18.2" stroke="#000" stroke-width="0.35">Number of closed patterns</text>
<text transform="translate(12.4 245.9) scale(1.8 1.05)" font-family="NanumGothic, sans-serif" font-weight="bold" font-size="11.5" stroke="#000" stroke-width="0.45">♯</text><text x="27.4" y="246.9" font-family="Liberation Sans, Arial, sans-serif" font-weight="bold" font-size="13.3" stroke="#000" stroke-width="0.3">c</text>
<clipPath id="c248"><rect x="25.5" y="246" width="245.5" height="154.8"/></clipPath><g clip-path="url(#c248)">
<path d="M28.9 261.3 L54.38 285.8 L105.33 310.6 L156.29 329.4 L207.24 345.9 L258.2 354.3" stroke="#000" stroke-width="1.5" fill="none" stroke-linejoin="round"/>
<polygon points="28.9,258.68 32.6,262.1 28.9,265.52 25.19,262.1" fill="#000"/>
<polygon points="54.38,283.18 58.08,286.6 54.38,290.02 50.67,286.6" fill="#000"/>
<polygon points="105.33,307.98 109.04,311.4 105.33,314.82 101.63,311.4" fill="#000"/>
<polygon points="156.29,326.78 159.99,330.2 156.29,333.62 152.58,330.2" fill="#000"/>
<polygon points="207.24,343.28 210.95,346.7 207.24,350.12 203.54,346.7" fill="#000"/>
<polygon points="258.2,351.68 261.91,355.1 258.2,358.52 254.5,355.1" fill="#000"/>
<path d="M28.9 283.6 L54.38 306.5 L105.33 328.4 L156.29 351 L207.24 367.4 L258.2 377.2" stroke="#000" stroke-width="1.5" fill="none" stroke-linejoin="round"/>
<circle cx="28.9" cy="284.4" r="3.61" fill="#000"/>
<circle cx="54.38" cy="307.3" r="3.61" fill="#000"/>
<circle cx="105.33" cy="329.2" r="3.61" fill="#000"/>
<circle cx="156.29" cy="351.8" r="3.61" fill="#000"/>
<circle cx="207.24" cy="368.2" r="3.61" fill="#000"/>
<circle cx="258.2" cy="378" r="3.61" fill="#000"/>
<path d="M28.9 306.1 L54.38 326.5 L105.33 343.7 L156.29 369.3 L207.24 391.3 L258.2 391.3" stroke="#000" stroke-width="1.5" fill="none" stroke-linejoin="round"/>
<circle cx="28.9" cy="307.1" r="3.13" fill="#fff" stroke="#000" stroke-width="1.5"/><path d="M25.76 307.1H32.03M28.9 303.97V310.24" stroke="#000" stroke-width="1.3" fill="none"/>
<circle cx="54.38" cy="327.5" r="3.13" fill="#fff" stroke="#000" stroke-width="1.5"/><path d="M51.24 327.5H57.51M54.38 324.37V330.63" stroke="#000" stroke-width="1.3" fill="none"/>
<circle cx="105.33" cy="344.7" r="3.13" fill="#fff" stroke="#000" stroke-width="1.5"/><path d="M102.2 344.7H108.47M105.33 341.56V347.83" stroke="#000" stroke-width="1.3" fill="none"/>
<circle cx="156.29" cy="370.3" r="3.13" fill="#fff" stroke="#000" stroke-width="1.5"/><path d="M153.15 370.3H159.42M156.29 367.17V373.44" stroke="#000" stroke-width="1.3" fill="none"/>
<circle cx="207.24" cy="392.3" r="3.13" fill="#fff" stroke="#000" stroke-width="1.5"/><path d="M204.11 392.3H210.38M207.24 389.17V395.44" stroke="#000" stroke-width="1.3" fill="none"/>
<circle cx="258.2" cy="392.3" r="3.13" fill="#fff" stroke="#000" stroke-width="1.5"/><path d="M255.07 392.3H261.34M258.2 389.17V395.44" stroke="#000" stroke-width="1.3" fill="none"/>
<path d="M28.9 344.3 L54.38 351.1 L105.33 358.6 L156.29 362.6 L207.24 368 L258.2 368.6" stroke="#808080" stroke-width="1.5" fill="none" stroke-linejoin="round"/>
<circle cx="28.9" cy="345.3" r="3.13" fill="#fff" stroke="#808080" stroke-width="1.5"/><path d="M25.76 345.3H32.03M28.9 342.17V348.44" stroke="#808080" stroke-width="1.3" fill="none"/>
<circle cx="54.38" cy="352.1" r="3.13" fill="#fff" stroke="#808080" stroke-width="1.5"/><path d="M51.24 352.1H57.51M54.38 348.97V355.24" stroke="#808080" stroke-width="1.3" fill="none"/>
<circle cx="105.33" cy="359.6" r="3.13" fill="#fff" stroke="#808080" stroke-width="1.5"/><path d="M102.2 359.6H108.47M105.33 356.47V362.74" stroke="#808080" stroke-width="1.3" fill="none"/>
<circle cx="156.29" cy="363.6" r="3.13" fill="#fff" stroke="#808080" stroke-width="1.5"/><path d="M153.15 363.6H159.42M156.29 360.47V366.74" stroke="#808080" stroke-width="1.3" fill="none"/>
<circle cx="207.24" cy="369" r="3.13" fill="#fff" stroke="#808080" stroke-width="1.5"/><path d="M204.11 369H210.38M207.24 365.87V372.13" stroke="#808080" stroke-width="1.3" fill="none"/>
<circle cx="258.2" cy="369.6" r="3.13" fill="#fff" stroke="#808080" stroke-width="1.5"/><path d="M255.07 369.6H261.34M258.2 366.47V372.74" stroke="#808080" stroke-width="1.3" fill="none"/>
<path d="M28.9 328.1 L54.38 339.7 L105.33 354 L156.29 362 L207.24 362.4 L258.2 368.8" stroke="#808080" stroke-width="1.5" fill="none" stroke-linejoin="round"/>
<polygon points="28.9,325.48 32.6,328.9 28.9,332.32 25.19,328.9" fill="#808080"/>
<polygon points="54.38,337.08 58.08,340.5 54.38,343.92 50.67,340.5" fill="#808080"/>
<polygon points="105.33,351.38 109.04,354.8 105.33,358.22 101.63,354.8" fill="#808080"/>
<polygon points="156.29,359.38 159.99,362.8 156.29,366.22 152.58,362.8" fill="#808080"/>
<polygon points="207.24,359.78 210.95,363.2 207.24,366.62 203.54,363.2" fill="#808080"/>
<polygon points="258.2,366.18 261.91,369.6 258.2,373.02 254.5,369.6" fill="#808080"/>
<path d="M28.9 339.7 L54.38 346 L105.33 356.7 L156.29 362.7 L207.24 368.2 L258.2 368.8" stroke="#808080" stroke-width="1.5" fill="none" stroke-linejoin="round"/>
<circle cx="28.9" cy="340.5" r="3.61" fill="#808080"/>
<circle cx="54.38" cy="346.8" r="3.61" fill="#808080"/>
<circle cx="105.33" cy="357.5" r="3.61" fill="#808080"/>
<circle cx="156.29" cy="363.5" r="3.61" fill="#808080"/>
<circle cx="207.24" cy="369" r="3.61" fill="#808080"/>
<circle cx="258.2" cy="369.6" r="3.61" fill="#808080"/>
</g>
<path d="M25.5 254V400.8M24 400.8H263" stroke="#6a6a6a" stroke-width="1" fill="none"/>
<path d="M54.38 400.8v-3.2M105.33 400.8v-3.2M156.29 400.8v-3.2M207.24 400.8v-3.2M258.2 400.8v-3.2M25.5 391.5h3.2M25.5 358.16h3.2M25.5 343.8h3.2M25.5 310.46h3.2M25.5 296.1h3.2M25.5 262.76h3.2" stroke="#606060" stroke-width="0.9" fill="none"/>
<path d="M33.99 400.8v-2M44.18 400.8v-2M64.57 400.8v-2M74.76 400.8v-2M84.95 400.8v-2M95.14 400.8v-2M115.52 400.8v-2M125.71 400.8v-2M135.91 400.8v-2M146.1 400.8v-2M166.48 400.8v-2M176.67 400.8v-2M186.86 400.8v-2M197.05 400.8v-2M217.44 400.8v-2M227.63 400.8v-2M237.82 400.8v-2M248.01 400.8v-2M25.5 398.89h1.8M25.5 396.12h1.8M25.5 393.68h1.8M25.5 377.14h1.8M25.5 368.74h1.8M25.5 362.78h1.8M25.5 354.38h1.8M25.5 351.19h1.8M25.5 348.42h1.8M25.5 345.98h1.8M25.5 329.44h1.8M25.5 321.04h1.8M25.5 315.08h1.8M25.5 306.68h1.8M25.5 303.49h1.8M25.5 300.72h1.8M25.5 298.28h1.8M25.5 281.74h1.8M25.5 273.34h1.8M25.5 267.38h1.8M25.5 258.98h1.8M25.5 255.79h1.8" stroke="#303030" stroke-width="0.9" fill="none"/>
<path d="M288.3 265.3H303.9" stroke="#000" stroke-width="1.75"/>
<polygon points="296.1,262.75 299.73,266.1 296.1,269.45 292.47,266.1" fill="#000"/>
<text x="309.6" y="268.25" font-family="Liberation Sans, Arial, sans-serif" font-weight="bold" font-size="10.1" stroke="#000" stroke-width="0.3">DBLP.S 3–core</text>
<path d="M288.3 284.7H303.9" stroke="#000" stroke-width="1.75"/>
<circle cx="296.1" cy="285.5" r="3.53" fill="#000"/>
<text x="309.6" y="287.65" font-family="Liberation Sans, Arial, sans-serif" font-weight="bold" font-size="10.1" stroke="#000" stroke-width="0.3">DBLP.S 5–core</text>
<path d="M288.3 304.1H303.9" stroke="#000" stroke-width="1.75"/>
<circle cx="296.1" cy="305.1" r="3.07" fill="#fff" stroke="#000" stroke-width="1.5"/><path d="M293.03 305.1H299.17M296.1 302.03V308.17" stroke="#000" stroke-width="1.3" fill="none"/>
<text x="309.6" y="307.05" font-family="Liberation Sans, Arial, sans-serif" font-weight="bold" font-size="10.1" stroke="#000" stroke-width="0.3">DBLP.S 7–core</text>
<path d="M288.3 323.5H303.9" stroke="#808080" stroke-width="1.75"/>
<polygon points="296.1,320.95 299.73,324.3 296.1,327.65 292.47,324.3" fill="#808080"/>
<text x="309.6" y="326.45" font-family="Liberation Sans, Arial, sans-serif" font-weight="bold" font-size="10.1" stroke="#000" stroke-width="0.3">DBLP.P 3–core</text>
<path d="M288.3 342.9H303.9" stroke="#808080" stroke-width="1.75"/>
<circle cx="296.1" cy="343.7" r="3.53" fill="#808080"/>
<text x="309.6" y="345.85" font-family="Liberation Sans, Arial, sans-serif" font-weight="bold" font-size="10.1" stroke="#000" stroke-width="0.3">DBLP.P 5–core</text>
<path d="M288.3 362.3H303.9" stroke="#808080" stroke-width="1.75"/>
<circle cx="296.1" cy="363.3" r="3.07" fill="#fff" stroke="#808080" stroke-width="1.5"/><path d="M293.03 363.3H299.17M296.1 360.23V366.37" stroke="#808080" stroke-width="1.3" fill="none"/>
<text x="309.6" y="365.25" font-family="Liberation Sans, Arial, sans-serif" font-weight="bold" font-size="10.1" stroke="#000" stroke-width="0.3">DBLP.P 7–core</text>
<path d="M461.31 263.3V400.8M490.92 263.3V400.8M520.53 263.3V400.8M550.14 263.3V400.8M579.75 263.3V400.8M609.36 263.3V400.8M638.97 263.3V400.8" stroke="#dadada" stroke-width="1"/>
<path d="M435.5 392.07H658M435.5 366.26H658M435.5 355.14H658M435.5 329.33H658M435.5 318.21H658M435.5 292.4H658M435.5 281.28H658" stroke="#e2e2e2" stroke-width="1"/>
<text x="461.31" y="413.6" font-family="Liberation Sans, Arial, sans-serif" font-weight="bold" font-size="11.6" stroke="#000" stroke-width="0.3" text-anchor="middle">0.02</text>
<text x="490.92" y="413.6" font-family="Liberation Sans, Arial, sans-serif" font-weight="bold" font-size="11.6" stroke="#000" stroke-width="0.3" text-anchor="middle">0.04</text>
<text x="520.53" y="413.6" font-family="Liberation Sans, Arial, sans-serif" font-weight="bold" font-size="11.6" stroke="#000" stroke-width="0.3" text-anchor="middle">0.06</text>
<text x="550.14" y="413.6" font-family="Liberation Sans, Arial, sans-serif" font-weight="bold" font-size="11.6" stroke="#000" stroke-width="0.3" text-anchor="middle">0.08</text>
<text x="579.75" y="413.6" font-family="Liberation Sans, Arial, sans-serif" font-weight="bold" font-size="11.6" stroke="#000" stroke-width="0.3" text-anchor="middle">0.10</text>
<text x="609.36" y="413.6" font-family="Liberation Sans, Arial, sans-serif" font-weight="bold" font-size="11.6" stroke="#000" stroke-width="0.3" text-anchor="middle">0.12</text>
<text x="638.97" y="413.6" font-family="Liberation Sans, Arial, sans-serif" font-weight="bold" font-size="11.6" stroke="#000" stroke-width="0.3" text-anchor="middle">0.14</text>
<text x="432.8" y="395.97" font-family="Liberation Sans, Arial, sans-serif" font-weight="bold" font-size="11" stroke="#000" stroke-width="0.3" text-anchor="end">10</text>
<text x="432.8" y="370.16" font-family="Liberation Sans, Arial, sans-serif" font-weight="bold" font-size="11" stroke="#000" stroke-width="0.3" text-anchor="end">50</text>
<text x="432.8" y="359.04" font-family="Liberation Sans, Arial, sans-serif" font-weight="bold" font-size="11" stroke="#000" stroke-width="0.3" text-anchor="end">100</text>
<text x="432.8" y="333.23" font-family="Liberation Sans, Arial, sans-serif" font-weight="bold" font-size="11" stroke="#000" stroke-width="0.3" text-anchor="end">500</text>
<text x="432.8" y="322.11" font-family="Liberation Sans, Arial, sans-serif" font-weight="bold" font-size="11" stroke="#000" stroke-width="0.3" text-anchor="end">1000</text>
<text x="432.8" y="296.3" font-family="Liberation Sans, Arial, sans-serif" font-weight="bold" font-size="11" stroke="#000" stroke-width="0.3" text-anchor="end">5000</text>
<text x="432.8" y="285.18" font-family="Liberation Sans, Arial, sans-serif" font-weight="bold" font-size="11" stroke="#000" stroke-width="0.3" text-anchor="end">10<tspan font-size="8" dy="-4.5">4</tspan></text>
<text x="665" y="405.6" font-family="Liberation Sans, Arial, sans-serif" font-weight="bold" font-size="13.8" stroke="#000" stroke-width="0.3">s</text>
<text x="481.8" y="240" font-family="Liberation Sans, Arial, sans-serif" font-weight="bold" font-size="18.2" stroke="#000" stroke-width="0.35">Execution time</text>
<text x="399.2" y="256.4" font-family="Liberation Sans, Arial, sans-serif" font-weight="bold" font-size="13.75" stroke="#000" stroke-width="0.3">Duration(s)</text>
<clipPath id="c332"><rect x="435.5" y="255.3" width="230.5" height="145.5"/></clipPath><g clip-path="url(#c332)">
<path d="M439.1 270.2 L446.5 274.3 L461.31 277.8 L476.12 280.5 L490.92 282.3 L505.73 284.1 L653.77 292" stroke="#000" stroke-width="1.45" fill="none" stroke-linejoin="round"/>
<polygon points="439.1,267.4 443,271 439.1,274.6 435.2,271" fill="#000"/>
<polygon points="446.5,271.5 450.4,275.1 446.5,278.7 442.61,275.1" fill="#000"/>
<polygon points="461.31,275 465.21,278.6 461.31,282.2 457.41,278.6" fill="#000"/>
<polygon points="476.12,277.7 480.01,281.3 476.12,284.9 472.22,281.3" fill="#000"/>
<polygon points="490.92,279.5 494.82,283.1 490.92,286.7 487.02,283.1" fill="#000"/>
<polygon points="505.73,281.3 509.62,284.9 505.73,288.5 501.83,284.9" fill="#000"/>
<polygon points="653.77,289.2 657.67,292.8 653.77,296.4 649.88,292.8" fill="#000"/>
<path d="M439.1 294.4 L446.5 296.7 L461.31 299.7 L476.12 301.5 L490.92 302 L505.73 303.3 L653.77 306.9" stroke="#000" stroke-width="1.45" fill="none" stroke-linejoin="round"/>
<circle cx="439.1" cy="295.2" r="3.53" fill="#000"/>
<circle cx="446.5" cy="297.5" r="3.53" fill="#000"/>
<circle cx="461.31" cy="300.5" r="3.53" fill="#000"/>
<circle cx="476.12" cy="302.3" r="3.53" fill="#000"/>
<circle cx="490.92" cy="302.8" r="3.53" fill="#000"/>
<circle cx="505.73" cy="304.1" r="3.53" fill="#000"/>
<circle cx="653.77" cy="307.7" r="3.53" fill="#000"/>
<path d="M439.1 318.6 L446.5 320 L461.31 321.8 L476.12 322.2 L490.92 322.7 L505.73 324.5 L653.77 324.4" stroke="#000" stroke-width="1.45" fill="none" stroke-linejoin="round"/>
<circle cx="439.1" cy="319.6" r="3.07" fill="#fff" stroke="#000" stroke-width="1.5"/><path d="M436.03 319.6H442.17M439.1 316.53V322.67" stroke="#000" stroke-width="1.3" fill="none"/>
<circle cx="446.5" cy="321" r="3.07" fill="#fff" stroke="#000" stroke-width="1.5"/><path d="M443.44 321H449.57M446.5 317.93V324.07" stroke="#000" stroke-width="1.3" fill="none"/>
<circle cx="461.31" cy="322.8" r="3.07" fill="#fff" stroke="#000" stroke-width="1.5"/><path d="M458.24 322.8H464.38M461.31 319.73V325.87" stroke="#000" stroke-width="1.3" fill="none"/>
<circle cx="476.12" cy="323.2" r="3.07" fill="#fff" stroke="#000" stroke-width="1.5"/><path d="M473.05 323.2H479.18M476.12 320.13V326.27" stroke="#000" stroke-width="1.3" fill="none"/>
<circle cx="490.92" cy="323.7" r="3.07" fill="#fff" stroke="#000" stroke-width="1.5"/><path d="M487.85 323.7H493.99M490.92 320.63V326.77" stroke="#000" stroke-width="1.3" fill="none"/>
<circle cx="505.73" cy="325.5" r="3.07" fill="#fff" stroke="#000" stroke-width="1.5"/><path d="M502.66 325.5H508.79M505.73 322.43V328.57" stroke="#000" stroke-width="1.3" fill="none"/>
<circle cx="653.77" cy="325.4" r="3.07" fill="#fff" stroke="#000" stroke-width="1.5"/><path d="M650.71 325.4H656.84M653.77 322.33V328.47" stroke="#000" stroke-width="1.3" fill="none"/>
<path d="M439.1 373.1 L446.5 372.6 L461.31 372.2 L476.12 372.2 L490.92 373.4 L505.73 372.6 L653.77 374.3" stroke="#808080" stroke-width="1.45" fill="none" stroke-linejoin="round"/>
<polygon points="439.1,370.3 443,373.9 439.1,377.5 435.2,373.9" fill="#808080"/>
<polygon points="446.5,369.8 450.4,373.4 446.5,377 442.61,373.4" fill="#808080"/>
<polygon points="461.31,369.4 465.21,373 461.31,376.6 457.41,373" fill="#808080"/>
<polygon points="476.12,369.4 480.01,373 476.12,376.6 472.22,373" fill="#808080"/>
<polygon points="490.92,370.6 494.82,374.2 490.92,377.8 487.02,374.2" fill="#808080"/>
<polygon points="505.73,369.8 509.62,373.4 505.73,377 501.83,373.4" fill="#808080"/>
<polygon points="653.77,371.5 657.67,375.1 653.77,378.7 649.88,375.1" fill="#808080"/>
<path d="M439.1 380.8 L446.5 380.2 L461.31 380.8 L476.12 380.8 L490.92 381.6 L505.73 381.6 L653.77 383.5" stroke="#808080" stroke-width="1.45" fill="none" stroke-linejoin="round"/>
<circle cx="439.1" cy="381.6" r="3.53" fill="#808080"/>
<circle cx="446.5" cy="381" r="3.53" fill="#808080"/>
<circle cx="461.31" cy="381.6" r="3.53" fill="#808080"/>
<circle cx="476.12" cy="381.6" r="3.53" fill="#808080"/>
<circle cx="490.92" cy="382.4" r="3.53" fill="#808080"/>
<circle cx="505.73" cy="382.4" r="3.53" fill="#808080"/>
<circle cx="653.77" cy="384.3" r="3.53" fill="#808080"/>
<path d="M439.1 389 L446.5 389 L461.31 389 L476.12 389 L490.92 390.4 L505.73 390.4 L653.77 392" stroke="#808080" stroke-width="1.45" fill="none" stroke-linejoin="round"/>
<circle cx="439.1" cy="390" r="3.07" fill="#fff" stroke="#808080" stroke-width="1.5"/><path d="M436.03 390H442.17M439.1 386.93V393.07" stroke="#808080" stroke-width="1.3" fill="none"/>
<circle cx="446.5" cy="390" r="3.07" fill="#fff" stroke="#808080" stroke-width="1.5"/><path d="M443.44 390H449.57M446.5 386.93V393.07" stroke="#808080" stroke-width="1.3" fill="none"/>
<circle cx="461.31" cy="390" r="3.07" fill="#fff" stroke="#808080" stroke-width="1.5"/><path d="M458.24 390H464.38M461.31 386.93V393.07" stroke="#808080" stroke-width="1.3" fill="none"/>
<circle cx="476.12" cy="390" r="3.07" fill="#fff" stroke="#808080" stroke-width="1.5"/><path d="M473.05 390H479.18M476.12 386.93V393.07" stroke="#808080" stroke-width="1.3" fill="none"/>
<circle cx="490.92" cy="391.4" r="3.07" fill="#fff" stroke="#808080" stroke-width="1.5"/><path d="M487.85 391.4H493.99M490.92 388.33V394.47" stroke="#808080" stroke-width="1.3" fill="none"/>
<circle cx="505.73" cy="391.4" r="3.07" fill="#fff" stroke="#808080" stroke-width="1.5"/><path d="M502.66 391.4H508.79M505.73 388.33V394.47" stroke="#808080" stroke-width="1.3" fill="none"/>
<circle cx="653.77" cy="393" r="3.07" fill="#fff" stroke="#808080" stroke-width="1.5"/><path d="M650.71 393H656.84M653.77 389.93V396.07" stroke="#808080" stroke-width="1.3" fill="none"/>
</g>
<path d="M435.5 263.3V400.8M434 400.8H658" stroke="#6a6a6a" stroke-width="1" fill="none"/>
<path d="M461.31 400.8v-3.2M490.92 400.8v-3.2M520.53 400.8v-3.2M550.14 400.8v-3.2M579.75 400.8v-3.2M609.36 400.8v-3.2M638.97 400.8v-3.2M435.5 392.07h3.2M435.5 366.26h3.2M435.5 355.14h3.2M435.5 329.33h3.2M435.5 318.21h3.2M435.5 292.4h3.2M435.5 281.28h3.2" stroke="#606060" stroke-width="0.9" fill="none"/>
<path d="M439.1 400.8v-2M446.5 400.8v-2M453.91 400.8v-2M468.71 400.8v-2M476.12 400.8v-2M483.52 400.8v-2M498.32 400.8v-2M505.73 400.8v-2M513.13 400.8v-2M527.93 400.8v-2M535.34 400.8v-2M542.74 400.8v-2M557.54 400.8v-2M564.94 400.8v-2M572.35 400.8v-2M587.15 400.8v-2M594.55 400.8v-2M601.96 400.8v-2M616.76 400.8v-2M624.16 400.8v-2M631.57 400.8v-2M646.37 400.8v-2M653.77 400.8v-2M435.5 400.26h1.8M435.5 397.79h1.8M435.5 395.65h1.8M435.5 393.76h1.8M435.5 380.95h1.8M435.5 374.45h1.8M435.5 369.84h1.8M435.5 363.33h1.8M435.5 360.86h1.8M435.5 358.72h1.8M435.5 356.83h1.8M435.5 344.02h1.8M435.5 337.52h1.8M435.5 332.91h1.8M435.5 326.4h1.8M435.5 323.93h1.8M435.5 321.79h1.8M435.5 319.9h1.8M435.5 307.09h1.8M435.5 300.59h1.8M435.5 295.98h1.8M435.5 289.47h1.8M435.5 287h1.8M435.5 284.86h1.8M435.5 282.97h1.8M435.5 270.16h1.8M435.5 263.66h1.8" stroke="#303030" stroke-width="0.9" fill="none"/>
<path d="M684 269.7H699" stroke="#000" stroke-width="1.75"/>
<polygon points="691.5,267.15 695.13,270.5 691.5,273.85 687.87,270.5" fill="#000"/>
<text x="704.4" y="272.65" font-family="Liberation Sans, Arial, sans-serif" font-weight="bold" font-size="10.1" stroke="#000" stroke-width="0.3">DBLP.S 3–core</text>
<path d="M684 289.18H699" stroke="#000" stroke-width="1.75"/>
<circle cx="691.5" cy="289.98" r="3.53" fill="#000"/>
<text x="704.4" y="292.13" font-family="Liberation Sans, Arial, sans-serif" font-weight="bold" font-size="10.1" stroke="#000" stroke-width="0.3">DBLP.S 5–core</text>
<path d="M684 308.66H699" stroke="#000" stroke-width="1.75"/>
<circle cx="691.5" cy="309.66" r="3.07" fill="#fff" stroke="#000" stroke-width="1.5"/><path d="M688.43 309.66H694.57M691.5 306.59V312.73" stroke="#000" stroke-width="1.3" fill="none"/>
<text x="704.4" y="311.61" font-family="Liberation Sans, Arial, sans-serif" font-weight="bold" font-size="10.1" stroke="#000" stroke-width="0.3">DBLP.S 7–core</text>
<path d="M684 328.14H699" stroke="#808080" stroke-width="1.75"/>
<polygon points="691.5,325.59 695.13,328.94 691.5,332.29 687.87,328.94" fill="#808080"/>
<text x="704.4" y="331.09" font-family="Liberation Sans, Arial, sans-serif" font-weight="bold" font-size="10.1" stroke="#000" stroke-width="0.3">DBLP.P 3–core</text>
<path d="M684 347.62H699" stroke="#808080" stroke-width="1.75"/>
<circle cx="691.5" cy="348.42" r="3.53" fill="#808080"/>
<text x="704.4" y="350.57" font-family="Liberation Sans, Arial, sans-serif" font-weight="bold" font-size="10.1" stroke="#000" stroke-width="0.3">DBLP.P 5–core</text>
<path d="M684 367.1H699" stroke="#808080" stroke-width="1.75"/>
<circle cx="691.5" cy="368.1" r="3.07" fill="#fff" stroke="#808080" stroke-width="1.5"/><path d="M688.43 368.1H694.57M691.5 365.03V371.17" stroke="#808080" stroke-width="1.3" fill="none"/>
<text x="704.4" y="370.05" font-family="Liberation Sans, Arial, sans-serif" font-weight="bold" font-size="10.1" stroke="#000" stroke-width="0.3">DBLP.P 7–core</text>
</svg>
</body></html>
